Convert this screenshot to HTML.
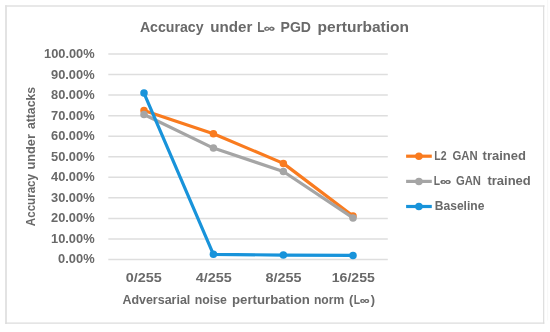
<!DOCTYPE html>
<html>
<head>
<meta charset="utf-8">
<title>Accuracy under L∞ PGD perturbation</title>
<style>
html,body{margin:0;padding:0;background:#fff;}
body{width:550px;height:332px;overflow:hidden;}
svg{display:block;filter:blur(0.35px);}
text{font-family:"Liberation Sans","DejaVu Sans",sans-serif;font-weight:bold;fill:#696969;stroke:none;}
text.inf{stroke:#696969;stroke-width:0.25px;}
.grid line{stroke:#dedede;stroke-width:1.5;}
</style>
</head>
<body>
<svg width="550" height="332" viewBox="0 0 550 332">
<rect x="0" y="0" width="550" height="332" fill="#ffffff"/>
<g fill="none" stroke-linecap="square">
<line x1="6" y1="6" x2="6" y2="323.2" stroke="#dedede" stroke-width="1.7"/>
<line x1="6" y1="6" x2="543.7" y2="6" stroke="#e0e0e0" stroke-width="1.7"/>
<line x1="543.7" y1="6" x2="543.7" y2="323.2" stroke="#dadada" stroke-width="1.1"/>
<line x1="6" y1="323.2" x2="543.7" y2="323.2" stroke="#dcdcdc" stroke-width="1.3"/>
<line x1="547.7" y1="0" x2="547.7" y2="320" stroke="#f7f7f7" stroke-width="1"/>
</g>
<g class="grid">
<line x1="108.3" x2="387.8" y1="54.00" y2="54.00"/>
<line x1="108.3" x2="387.8" y1="74.55" y2="74.55"/>
<line x1="108.3" x2="387.8" y1="95.10" y2="95.10"/>
<line x1="108.3" x2="387.8" y1="115.65" y2="115.65"/>
<line x1="108.3" x2="387.8" y1="136.20" y2="136.20"/>
<line x1="108.3" x2="387.8" y1="156.75" y2="156.75"/>
<line x1="108.3" x2="387.8" y1="177.30" y2="177.30"/>
<line x1="108.3" x2="387.8" y1="197.85" y2="197.85"/>
<line x1="108.3" x2="387.8" y1="218.40" y2="218.40"/>
<line x1="108.3" x2="387.8" y1="238.95" y2="238.95"/>
<line x1="108.3" x2="387.8" y1="259.50" y2="259.50"/>
</g>
<g>
<text x="139.9" y="31.7" font-size="15.3" textLength="63.7" lengthAdjust="spacingAndGlyphs">Accuracy</text>
<text x="210.2" y="31.7" font-size="15.3" textLength="42.1" lengthAdjust="spacingAndGlyphs">under</text>
<text x="257.3" y="31.7" font-size="15.3" textLength="7.4" lengthAdjust="spacingAndGlyphs">L</text>
<text x="280.5" y="31.7" font-size="15.3" textLength="30.5" lengthAdjust="spacingAndGlyphs">PGD</text>
<text x="317.6" y="31.7" font-size="15.3" textLength="91.4" lengthAdjust="spacingAndGlyphs">perturbation</text>
<text class="inf" x="264.0" y="31.5" font-size="11.5" textLength="11.0" lengthAdjust="spacingAndGlyphs">∞</text>
</g>
<g>
<text x="44.0" y="58.0" font-size="12.2" textLength="50.6" lengthAdjust="spacingAndGlyphs">100.00%</text>
<text x="51.0" y="78.5" font-size="12.2" textLength="43.6" lengthAdjust="spacingAndGlyphs">90.00%</text>
<text x="51.0" y="99.0" font-size="12.2" textLength="43.6" lengthAdjust="spacingAndGlyphs">80.00%</text>
<text x="51.0" y="119.6" font-size="12.2" textLength="43.6" lengthAdjust="spacingAndGlyphs">70.00%</text>
<text x="51.0" y="140.1" font-size="12.2" textLength="43.6" lengthAdjust="spacingAndGlyphs">60.00%</text>
<text x="51.0" y="160.7" font-size="12.2" textLength="43.6" lengthAdjust="spacingAndGlyphs">50.00%</text>
<text x="51.0" y="181.2" font-size="12.2" textLength="43.6" lengthAdjust="spacingAndGlyphs">40.00%</text>
<text x="51.0" y="201.8" font-size="12.2" textLength="43.6" lengthAdjust="spacingAndGlyphs">30.00%</text>
<text x="51.0" y="222.3" font-size="12.2" textLength="43.6" lengthAdjust="spacingAndGlyphs">20.00%</text>
<text x="51.0" y="242.9" font-size="12.2" textLength="43.6" lengthAdjust="spacingAndGlyphs">10.00%</text>
<text x="58.1" y="263.4" font-size="12.2" textLength="36.5" lengthAdjust="spacingAndGlyphs">0.00%</text>
</g>
<g>
<text x="125.8" y="282.3" font-size="12.2" textLength="36.0" lengthAdjust="spacingAndGlyphs">0/255</text>
<text x="195.7" y="282.3" font-size="12.2" textLength="36.0" lengthAdjust="spacingAndGlyphs">4/255</text>
<text x="265.5" y="282.3" font-size="12.2" textLength="36.0" lengthAdjust="spacingAndGlyphs">8/255</text>
<text x="331.8" y="282.3" font-size="12.2" textLength="43.0" lengthAdjust="spacingAndGlyphs">16/255</text>
</g>
<g>
<text x="122.4" y="304.1" font-size="13" textLength="67.9" lengthAdjust="spacingAndGlyphs">Adversarial</text>
<text x="194.8" y="304.1" font-size="13" textLength="32.1" lengthAdjust="spacingAndGlyphs">noise</text>
<text x="232.0" y="304.1" font-size="13" textLength="77.8" lengthAdjust="spacingAndGlyphs">perturbation</text>
<text x="313.9" y="304.1" font-size="13" textLength="30.3" lengthAdjust="spacingAndGlyphs">norm</text>
<text x="349.0" y="304.1" font-size="13" textLength="4.3" lengthAdjust="spacingAndGlyphs">(</text>
<text x="353.7" y="304.1" font-size="13" textLength="6.3" lengthAdjust="spacingAndGlyphs">L</text>
<text x="370.8" y="304.1" font-size="13" textLength="4.3" lengthAdjust="spacingAndGlyphs">)</text>
<text class="inf" x="360.0" y="303.9" font-size="10.5" textLength="9.7" lengthAdjust="spacingAndGlyphs">∞</text>
</g>
<g transform="translate(34.6 0) rotate(-90)">
<text x="-226.2" y="0.0" font-size="13" textLength="52.2" lengthAdjust="spacingAndGlyphs">Accuracy</text>
<text x="-169.5" y="0.0" font-size="13" textLength="35.4" lengthAdjust="spacingAndGlyphs">under</text>
<text x="-129.1" y="0.0" font-size="13" textLength="42.2" lengthAdjust="spacingAndGlyphs">attacks</text>
</g>
<g stroke="#f97b1f" fill="#f97b1f">
<polyline fill="none" stroke-width="3.2" stroke-linejoin="round" stroke-linecap="round" points="144.0,110.5 213.4,133.7 283.35,163.4 353.0,216.0"/>
<g stroke="none"><circle cx="144.0" cy="110.5" r="3.75"/><circle cx="213.4" cy="133.7" r="3.75"/><circle cx="283.35" cy="163.4" r="3.75"/><circle cx="353.0" cy="216.0" r="3.75"/></g>
</g>
<g stroke="#a5a5a5" fill="#a5a5a5">
<polyline fill="none" stroke-width="3.2" stroke-linejoin="round" stroke-linecap="round" points="144.0,114.5 213.4,148.1 283.35,171.5 353.0,217.9"/>
<g stroke="none"><circle cx="144.0" cy="114.5" r="3.75"/><circle cx="213.4" cy="148.1" r="3.75"/><circle cx="283.35" cy="171.5" r="3.75"/><circle cx="353.0" cy="217.9" r="3.75"/></g>
</g>
<g stroke="#1893da" fill="#1893da">
<polyline fill="none" stroke-width="3.2" stroke-linejoin="round" stroke-linecap="round" points="144.0,93.1 213.4,254.3 283.35,255.1 353.0,255.4"/>
<g stroke="none"><circle cx="144.0" cy="93.1" r="3.75"/><circle cx="213.4" cy="254.3" r="3.75"/><circle cx="283.35" cy="255.1" r="3.75"/><circle cx="353.0" cy="255.4" r="3.75"/></g>
</g>
<g stroke-width="3.2">
<line x1="406.1" x2="431.8" y1="156.2" y2="156.2" stroke="#f97b1f"/><circle cx="418.9" cy="156.2" r="3.75" fill="#f97b1f"/>
<line x1="406.1" x2="431.8" y1="181.4" y2="181.4" stroke="#a5a5a5"/><circle cx="418.9" cy="181.4" r="3.75" fill="#a5a5a5"/>
<line x1="406.1" x2="431.8" y1="206.5" y2="206.5" stroke="#1893da"/><circle cx="418.9" cy="206.5" r="3.75" fill="#1893da"/>
</g>
<g>
<text x="434.3" y="160.1" font-size="13" textLength="12.3" lengthAdjust="spacingAndGlyphs">L2</text>
<text x="452.4" y="160.1" font-size="13" textLength="25.2" lengthAdjust="spacingAndGlyphs">GAN</text>
<text x="482.6" y="160.1" font-size="13" textLength="43.4" lengthAdjust="spacingAndGlyphs">trained</text>
<text x="433.7" y="185.3" font-size="13" textLength="6.3" lengthAdjust="spacingAndGlyphs">L</text>
<text x="456.0" y="185.3" font-size="13" textLength="25.0" lengthAdjust="spacingAndGlyphs">GAN</text>
<text x="487.4" y="185.3" font-size="13" textLength="43.4" lengthAdjust="spacingAndGlyphs">trained</text>
<text x="434.8" y="210.4" font-size="13" textLength="49.6" lengthAdjust="spacingAndGlyphs">Baseline</text>
<text class="inf" x="440.2" y="184.6" font-size="10.5" textLength="11.0" lengthAdjust="spacingAndGlyphs">∞</text>
</g>
</svg>
</body>
</html>
